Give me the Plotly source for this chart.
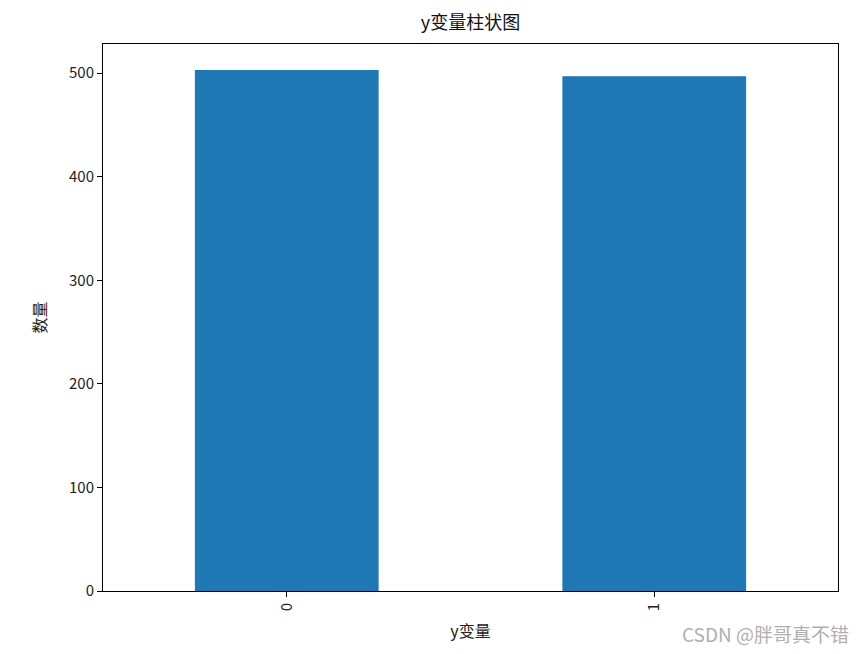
import plotly.graph_objects as go

# category counts of y
categories = ["0", "1"]
counts = [503, 497]

font_cjk = "Noto Sans CJK SC, DejaVu Sans, sans-serif"

fig = go.Figure()
fig.add_trace(go.Bar(
    x=[0, 1], y=counts, width=0.5,
    marker=dict(color="#1f77b4", line=dict(width=0)),
))

fig.update_layout(
    width=865, height=654,
    margin=dict(l=95, r=35, t=36, b=71),
    paper_bgcolor="white", plot_bgcolor="white",
    showlegend=False,
    font=dict(family=font_cjk, size=15, color="#222"),
    title=dict(text="y变量柱状图", x=0.5, xref="paper", xanchor="center",
               y=1 - 15 / 654, yanchor="middle", font=dict(size=18, color="#111")),
)
fig.update_xaxes(
    range=[-0.5, 1.5], tickmode="array", tickvals=[0, 1], ticktext=categories,
    tickangle=-90, ticks="outside", ticklen=5, tickcolor="black",
    showline=True, linecolor="black", linewidth=1, mirror=True,
    showgrid=False, zeroline=False,
    title=dict(text="y变量", standoff=15, font=dict(size=16)),
)
fig.update_yaxes(
    range=[0, 528.15], tickvals=[0, 100, 200, 300, 400, 500],
    ticks="outside", ticklen=5, tickcolor="black",
    showline=True, linecolor="black", linewidth=1, mirror=True,
    showgrid=False, zeroline=False,
    title=dict(text="数量", standoff=18, font=dict(size=16)),
)
fig.add_annotation(
    text="CSDN @胖哥真不错", xref="paper", yref="paper", x=1.018, y=-0.077,
    xanchor="right", yanchor="middle", showarrow=False,
    font=dict(family=font_cjk, size=19, color="#b0b0b0"),
)

fig.write_html("out.html")
